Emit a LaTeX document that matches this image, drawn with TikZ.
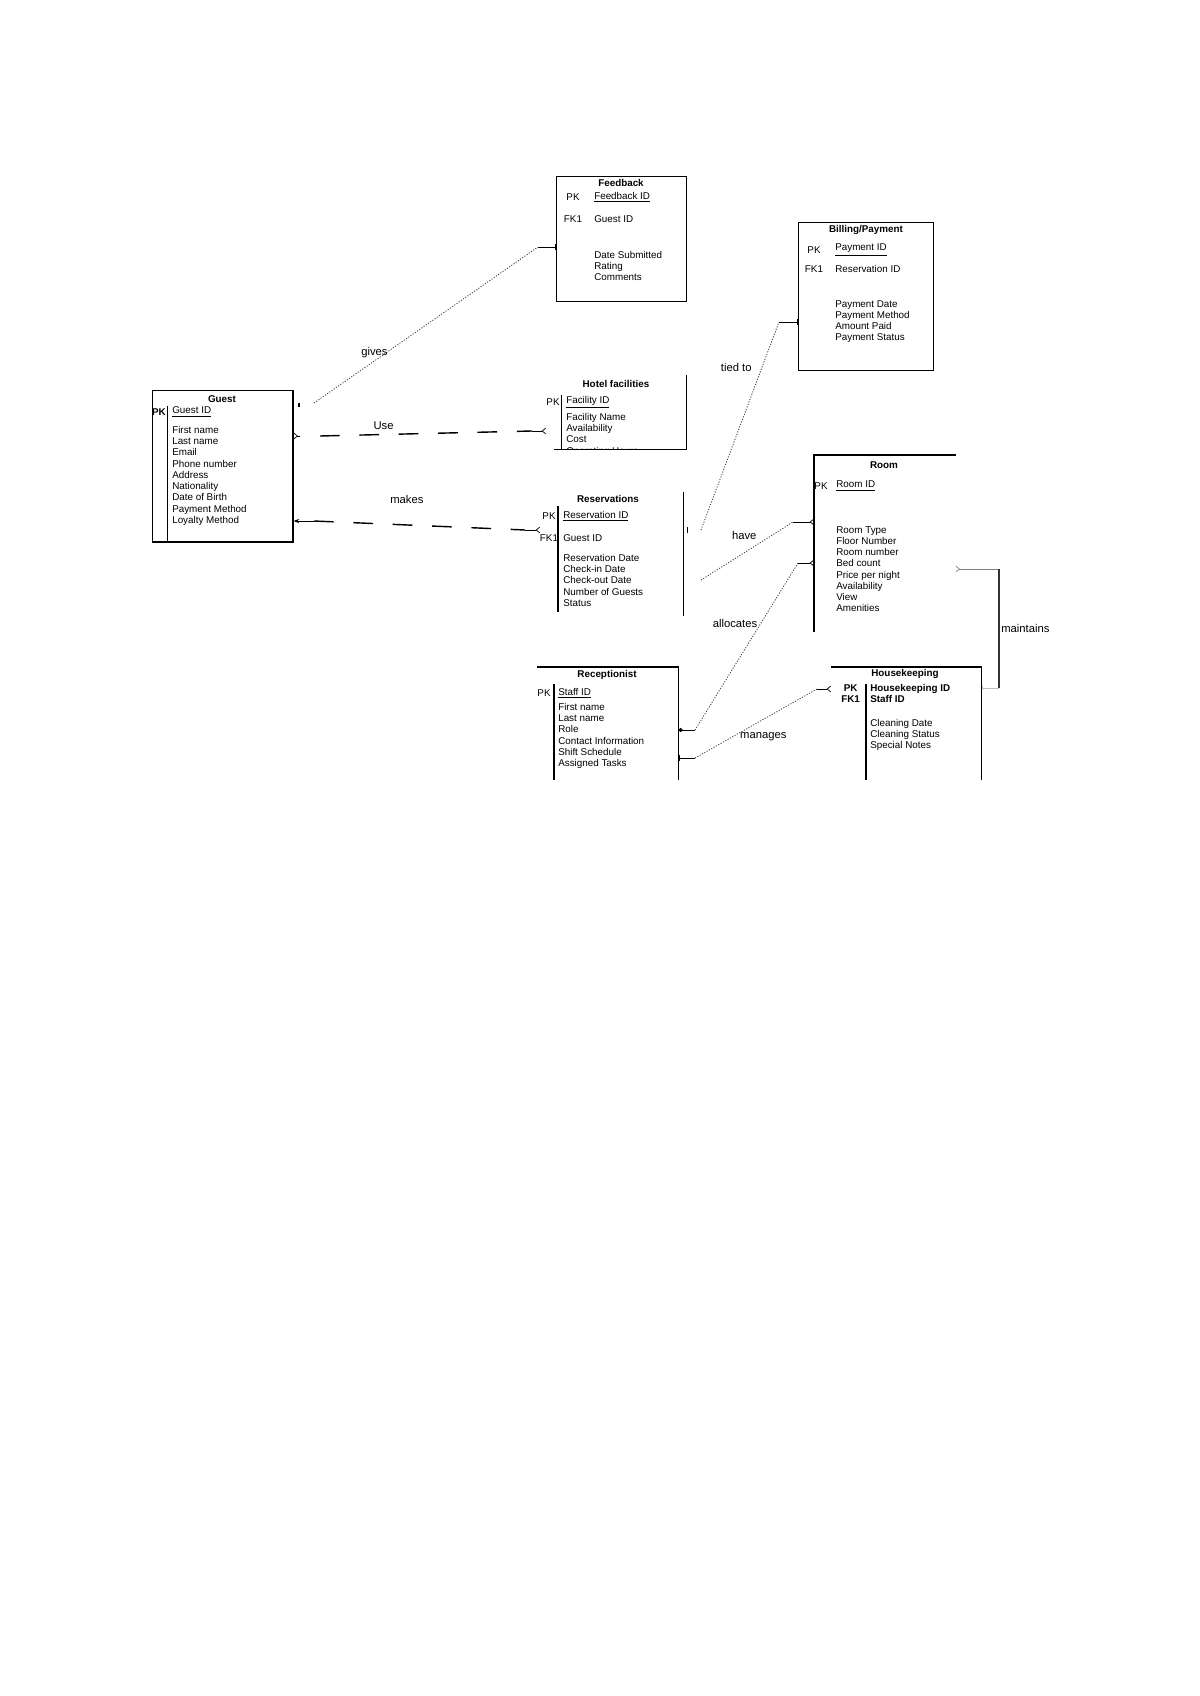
\documentclass[tikz,border=0pt]{standalone}
\usepackage{fontspec}
\setmainfont{Liberation Sans}
\usetikzlibrary{positioning, arrows.meta, calc}
\tikzset{crow/.tip={Straight Barb[reversed, length=2.5pt, width=4pt]}}

\begin{document}
\begin{tikzpicture}[x=0.025cm, y=-0.025cm,
  entity/.style={rectangle, inner sep=0pt, anchor=north west},
  box/.style={entity, draw, line width=0.9pt},
  side/.style={line width=0.9pt},
  ttl/.style={font=\bfseries\fontsize{7}{8}\selectfont, inner sep=0pt},
  keycol/.style={font=\fontsize{7}{8}\selectfont, inner sep=0pt},
  fld/.style={anchor=west, font=\fontsize{7}{8}\selectfont, inner sep=0pt},
  attrs/.style={anchor=north west, align=left, font=\fontsize{7}{8}\selectfont, inner sep=0pt},
  lbl/.style={font=\fontsize{8}{9}\selectfont, inner sep=1pt, text=black},
  rel/.style={black!75, line width=0.6pt, dash pattern=on 0.8pt off 1.1pt},
  heavy/.style={line width=1pt, dash pattern=on 14pt off 14pt},
  stub/.style={line width=0.5pt},
]
  \useasboundingbox (0,0) rectangle (1200,1696);

  % entity frames
  \node[box, minimum width=3.52cm, minimum height=3.79cm] (guest) at (151.5,389.6) {};
  \node[box, minimum width=3.25cm, minimum height=3.125cm] (feedback) at (556,176) {};
  \node[box, minimum width=3.39cm, minimum height=3.7cm] (billing) at (797.5,222) {};
  \node[entity, minimum width=3.5cm, minimum height=1.85cm] (facility) at (546,375) {};
  \node[entity, minimum width=3.575cm, minimum height=3.075cm] (resv) at (540,492) {};
  \node[entity, minimum width=3.525cm, minimum height=4.4cm] (room) at (814,455) {};
  \node[entity, minimum width=3.525cm, minimum height=2.8cm] (recep) at (537,667) {};
  \node[entity, minimum width=3.75cm, minimum height=2.8cm] (house) at (831,667) {};

  % open sides
  \draw[side] (facility.north east) -- (facility.south east) -- ($(facility.south west)+(8,0)$);
  \draw[side] (resv.north east) -- (resv.south east);
  \draw[side] (room.south west) -- (room.north west) -- (room.north east);
  \draw[side] (recep.north west) -- (recep.north east) -- (recep.south east);
  \draw[side] (house.north west) -- (house.north east) -- (house.south east);

  % key dividers
  \draw[side] ($(guest.north west)+(16.2,16.2)$) -- ($(guest.south west)+(16.2,0)$);
  \draw[side] ($(facility.north west)+(15.6,20)$) -- ($(facility.south west)+(15.6,0)$);
  \draw[side] ($(resv.north west)+(18,14)$) -- ($(resv.south west)+(18,-4)$);
  \draw[side] ($(recep.north west)+(17,17)$) -- ($(recep.south west)+(17,0)$);
  \draw[side] ($(house.north west)+(35,17)$) -- ($(house.south west)+(35,0)$);

  % Guest
  \node[ttl] (guestT) at (222,399) {Guest};
  \node[keycol, font=\bfseries\fontsize{7}{8}\selectfont] (guestPK) at (159,412) {PK};
  \node[fld] (guestID) at (172,412) {\underline{Guest ID}};
  \node[attrs] (guestA) at (172,426) {First name\\Last name\\Email\\Phone number\\Address\\
    Nationality\\Date of Birth\\Payment Method\\Loyalty Method};

  % Feedback
  \node[ttl] (feedT) at (621,183) {Feedback};
  \node[keycol] (feedPK) at (573,197) {PK};
  \node[fld] (feedID) at (594,197) {\underline{Feedback ID}};
  \node[keycol] (feedFK) at (573,219) {FK1};
  \node[fld] (feedG) at (594,219) {Guest ID};
  \node[attrs] (feedA) at (594,251) {Date Submitted\\Rating\\Comments};

  % Billing/Payment
  \node[ttl] (billT) at (866,230) {Billing/Payment};
  \node[keycol] (billPK) at (814,250) {PK};
  \node[fld] (billID) at (835,250) {\underline{Payment ID}};
  \node[keycol] (billFK) at (814,269) {FK1};
  \node[fld] (billR) at (835,269) {Reservation ID};
  \node[attrs] (billA) at (835,300) {Payment Date\\Payment Method\\Amount Paid\\Payment Status};

  % Hotel facilities
  \node[ttl] (facT) at (616,384) {Hotel facilities};
  \node[keycol] (facPK) at (553,402) {PK};
  \node[fld] (facID) at (566,402) {\underline{Facility ID}};
  \begin{scope}
    \clip (facility.north west) rectangle (facility.south east);
    \node[attrs] (facA) at (566,413) {Facility Name\\Availability\\Cost\\Operating Hours};
  \end{scope}

  % Reservations
  \node[ttl] (resvT) at (608,499) {Reservations};
  \node[keycol] (resvPK) at (549,516) {PK};
  \node[fld] (resvID) at (563,516) {\underline{Reservation ID}};
  \node[keycol] (resvFK) at (549,538) {FK1};
  \node[fld] (resvG) at (563,538) {Guest ID};
  \node[attrs] (resvA) at (563,554) {Reservation Date\\Check-in Date\\Check-out Date\\
    Number of Guests\\Status};

  % Room
  \node[ttl] (roomT) at (884,465) {Room};
  \node[keycol] (roomPK) at (821,486) {PK};
  \node[fld] (roomID) at (836,486) {\underline{Room ID}};
  \node[attrs] (roomA) at (836,526) {Room Type\\Floor Number\\Room number\\Bed count\\
    Price per night\\Availability\\View\\Amenities};

  % Receptionist
  \node[ttl] (recT) at (607,675) {Receptionist};
  \node[keycol] (recPK) at (544,693) {PK};
  \node[fld] (recID) at (558,693) {\underline{Staff ID}};
  \node[attrs] (recA) at (558,703) {First name\\Last name\\Role\\Contact Information\\
    Shift Schedule\\Assigned Tasks};

  % Housekeeping
  \node[ttl] (houseT) at (905,674) {Housekeeping};
  \node[attrs, font=\bfseries\fontsize{7}{8}\selectfont, align=center] (houseK) at (841,684) {PK\\FK1};
  \node[attrs, font=\bfseries\fontsize{7}{8}\selectfont] (houseID) at (870,684) {Housekeeping ID\\Staff ID};
  \node[attrs] (houseA) at (870,719) {Cleaning Date\\Cleaning Status\\Special Notes};

  % gives
  \coordinate (gv1) at (314,403);
  \coordinate (gv2) at (538,247);
  \fill (297.5,402.5) rectangle (300,406.5);
  \draw[rel] (gv1) -- node[lbl, pos=0.27, above=1pt] {gives} (gv2);
  \draw[stub, -{Bar[width=4pt]}] (gv2) -- (gv2 -| feedback.west);

  % Use
  \coordinate (us1) at (320,436);
  \coordinate (us2) at (532,431);
  \draw[stub, {crow}-] (guest.east |- us1) -- ++(6,0);
  \draw[heavy] (us1) -- node[lbl, pos=0.3, above=2pt] {Use} (us2);
  \draw[stub, -{crow}] (us2) -- (us2 -| facility.west);

  % makes
  \coordinate (mk1) at (314,521);
  \coordinate (mk2) at (525,530);
  \draw[stub, -{Stealth[length=4pt, width=3pt]}] (mk1) -- (mk1 -| guest.east);
  \draw[heavy] (mk1) -- node[lbl, pos=0.44, above=14pt] {makes} (mk2);
  \draw[stub, -{crow}] (mk2) -- (mk2 -| resv.west);

  % tied to
  \coordinate (td1) at (701,530);
  \coordinate (td2) at (779,322);
  \draw[stub] ($(resv.east |- td1)+(4,-3)$) -- ++(0,6);
  \draw[rel] (td1) -- node[lbl, pos=0.78, left=6pt] {tied to} (td2);
  \draw[stub, -{Bar[width=4pt]}] (td2) -- (td2 -| billing.west);

  % have
  \coordinate (hv1) at (701,580);
  \coordinate (hv2) at (793,522);
  \draw[rel] (hv1) -- node[lbl, pos=0.47, above=8pt] {have} (hv2);
  \draw[stub, -{crow}] (hv2) -- (hv2 -| room.west);

  % allocates
  \coordinate (al1) at (695,730);
  \coordinate (al2) at (798,563);
  \draw[stub, {Circle[length=3pt]}-] (recep.east |- al1) -- (al1);
  \draw[rel] (al1) -- node[lbl, pos=0.635, left=1pt] {allocates} (al2);
  \draw[stub, -{crow}] (al2) -- (al2 -| room.west);

  % manages
  \coordinate (mg1) at (695,758);
  \coordinate (mg2) at (817,689);
  \draw[stub, {Bar[width=4pt]}-] (recep.east |- mg1) -- (mg1);
  \draw[rel] (mg1) -- node[lbl, pos=0.56, below=8pt] {manages} (mg2);
  \draw[stub, -{crow}] (mg2) -- (mg2 -| house.west);

  % maintains
  \coordinate (mt1) at (999,569);
  \coordinate (mt2) at (999,688);
  \draw[stub, gray, {crow}-] (room.east |- mt1) -- (mt1);
  \draw[line width=1.2pt, gray!40!black] (mt1) -- node[lbl, midway, right=0pt] {maintains} (mt2);
  \draw[stub, gray!50, -{Bar[width=3pt]}] (mt2) -- (mt2 -| house.east);
\end{tikzpicture}
\end{document}
